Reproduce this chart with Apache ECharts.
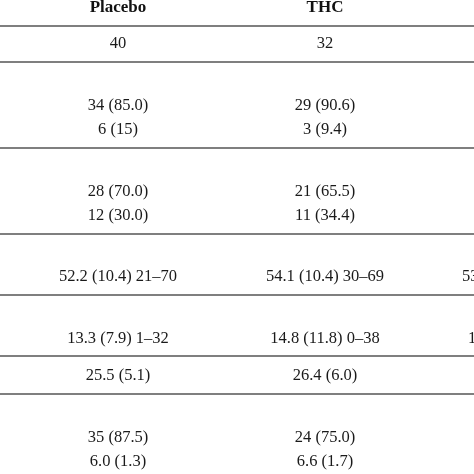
<!DOCTYPE html>
<html><head><meta charset="utf-8">
<script src="https://cdn.jsdelivr.net/npm/echarts@6/dist/echarts.min.js"></script>
<style>html,body{margin:0;padding:0;background:#fff}#c{width:474px;height:474px}</style>
</head><body><div id="c"></div>
<script>
const headers = ['Placebo', 'THC'];
const placebo = [['40'], ['34 (85.0)', '6 (15)'], ['28 (70.0)', '12 (30.0)'], ['52.2 (10.4) 21–70'], ['13.3 (7.9) 1–32'], ['25.5 (5.1)'], ['35 (87.5)', '6.0 (1.3)']];
const thc = [['32'], ['29 (90.6)', '3 (9.4)'], ['21 (65.5)', '11 (34.4)'], ['54.1 (10.4) 30–69'], ['14.8 (11.8) 0–38'], ['26.4 (6.0)'], ['24 (75.0)', '6.6 (1.7)']];
const third = [[], [], [], ['53.1 (10.4) 21–70'], ['14.0 (9.8) 0–38'], [], []];
// layout
const rowBottoms = [62, 148, 234, 295, 356, 394, 490];
const rowLastY = [44, 130, 216, 277, 339, 376, 462];
const lineYs = [26, 62, 148, 234, 295, 356, 394];
const colX = [118, 325];
const font = '"Liberation Serif", "DejaVu Serif", serif';
const g = [];
g.push({type:'text', x:colX[0], y:8, style:{text:headers[0], font:'bold 17px '+font, fill:'#111', align:'center', verticalAlign:'middle'}});
g.push({type:'text', x:colX[1], y:8, style:{text:headers[1], font:'bold 17px '+font, fill:'#111', align:'center', verticalAlign:'middle'}});
lineYs.forEach(y => g.push({type:'line', shape:{x1:0, y1:y, x2:474, y2:y}, style:{stroke:'#555', lineWidth:1.4}}));
[placebo, thc].forEach((col, ci) => {
  col.forEach((cell, ri) => {
    const n = cell.length;
    cell.forEach((t, k) => {
      const y = rowLastY[ri] - (n - 1 - k) * 24;
      g.push({type:'text', x:colX[ci], y:y, style:{text:t, font:'16.5px '+font, fill:'#1a1a1a', align:'center', verticalAlign:'middle'}});
    });
  });
});
third.forEach((cell, ri) => {
  cell.forEach((t) => {
    g.push({type:'text', x: ri === 3 ? 462 : 468, y: rowLastY[ri], style:{text:t, font:'16.5px '+font, fill:'#1a1a1a', align:'left', verticalAlign:'middle'}});
  });
});
const chart = echarts.init(document.getElementById('c'));
chart.setOption({animation:false, graphic:{elements:g}});
</script></body></html>
